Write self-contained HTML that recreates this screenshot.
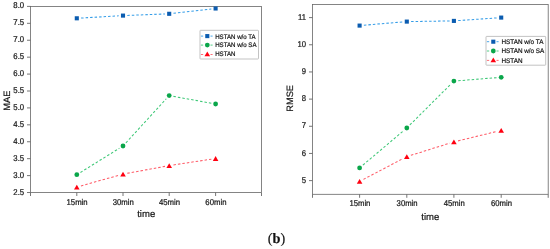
<!DOCTYPE html>
<html><head><meta charset="utf-8"><title>figure</title>
<style>
html,body{margin:0;padding:0;background:#fff}
body{width:550px;height:249px;overflow:hidden}
svg{display:block}
text{font-family:"Liberation Sans",sans-serif;fill:#1a1a1a;stroke:#1a1a1a;stroke-width:0.25px;text-rendering:geometricPrecision}
.tk{font-size:8.4px;stroke-width:0.24px}
.ttl{font-size:9.5px;fill:#111;stroke-width:0.2px}
.lg{font-size:6.5px;fill:#111;stroke-width:0.2px}
.lg2{font-size:6.6px}
.r .tk{font-size:8.4px}
.r .ttl{font-size:9.5px}
.yl,.r .yl{font-size:9.25px}
.cap{font-family:"Liberation Serif",serif;font-size:14.3px;fill:#111;stroke-width:0.15px}
</style></head><body>
<svg width="550" height="249" viewBox="0 0 550 249">
<rect width="550" height="249" fill="#fff"/>
<rect x="30.5" y="6.4" width="231.00" height="186.10" fill="none" stroke="#666666" stroke-width="0.8"/>
<line x1="27.00" y1="6.4" x2="30.5" y2="6.4" stroke="#666666" stroke-width="0.9"/>
<text transform="translate(24.10,8.45) scale(0.925,1)" text-anchor="end" class="tk">8.0</text>
<line x1="27.00" y1="23.32" x2="30.5" y2="23.32" stroke="#666666" stroke-width="0.9"/>
<text transform="translate(24.10,25.37) scale(0.925,1)" text-anchor="end" class="tk">7.5</text>
<line x1="27.00" y1="40.24" x2="30.5" y2="40.24" stroke="#666666" stroke-width="0.9"/>
<text transform="translate(24.10,42.29) scale(0.925,1)" text-anchor="end" class="tk">7.0</text>
<line x1="27.00" y1="57.16" x2="30.5" y2="57.16" stroke="#666666" stroke-width="0.9"/>
<text transform="translate(24.10,59.21) scale(0.925,1)" text-anchor="end" class="tk">6.5</text>
<line x1="27.00" y1="74.08" x2="30.5" y2="74.08" stroke="#666666" stroke-width="0.9"/>
<text transform="translate(24.10,76.13) scale(0.925,1)" text-anchor="end" class="tk">6.0</text>
<line x1="27.00" y1="91.0" x2="30.5" y2="91.0" stroke="#666666" stroke-width="0.9"/>
<text transform="translate(24.10,93.05) scale(0.925,1)" text-anchor="end" class="tk">5.5</text>
<line x1="27.00" y1="107.92" x2="30.5" y2="107.92" stroke="#666666" stroke-width="0.9"/>
<text transform="translate(24.10,109.97) scale(0.925,1)" text-anchor="end" class="tk">5.0</text>
<line x1="27.00" y1="124.84" x2="30.5" y2="124.84" stroke="#666666" stroke-width="0.9"/>
<text transform="translate(24.10,126.89) scale(0.925,1)" text-anchor="end" class="tk">4.5</text>
<line x1="27.00" y1="141.76" x2="30.5" y2="141.76" stroke="#666666" stroke-width="0.9"/>
<text transform="translate(24.10,143.81) scale(0.925,1)" text-anchor="end" class="tk">4.0</text>
<line x1="27.00" y1="158.68" x2="30.5" y2="158.68" stroke="#666666" stroke-width="0.9"/>
<text transform="translate(24.10,160.73) scale(0.925,1)" text-anchor="end" class="tk">3.5</text>
<line x1="27.00" y1="175.6" x2="30.5" y2="175.6" stroke="#666666" stroke-width="0.9"/>
<text transform="translate(24.10,177.65) scale(0.925,1)" text-anchor="end" class="tk">3.0</text>
<line x1="27.00" y1="192.52" x2="30.5" y2="192.52" stroke="#666666" stroke-width="0.9"/>
<text transform="translate(24.10,194.57) scale(0.925,1)" text-anchor="end" class="tk">2.5</text>
<line x1="30.50" y1="192.5" x2="30.50" y2="196.00" stroke="#666666" stroke-width="0.9"/>
<line x1="76.80" y1="192.5" x2="76.80" y2="196.00" stroke="#666666" stroke-width="0.9"/>
<line x1="123.00" y1="192.5" x2="123.00" y2="196.00" stroke="#666666" stroke-width="0.9"/>
<line x1="169.20" y1="192.5" x2="169.20" y2="196.00" stroke="#666666" stroke-width="0.9"/>
<line x1="215.60" y1="192.5" x2="215.60" y2="196.00" stroke="#666666" stroke-width="0.9"/>
<line x1="261.50" y1="192.5" x2="261.50" y2="196.00" stroke="#666666" stroke-width="0.9"/>
<text transform="translate(77.10,205.00) scale(0.925,1)" text-anchor="middle" class="tk">15min</text>
<text transform="translate(123.30,205.00) scale(0.925,1)" text-anchor="middle" class="tk">30min</text>
<text transform="translate(169.50,205.00) scale(0.925,1)" text-anchor="middle" class="tk">45min</text>
<text transform="translate(215.90,205.00) scale(0.925,1)" text-anchor="middle" class="tk">60min</text>
<text x="146.2" y="217.30" text-anchor="middle" class="ttl">time</text>
<text transform="translate(9.7,100.7) rotate(-90)" text-anchor="middle" class="ttl yl">MAE</text>
<line x1="81.09" y1="18.05" x2="118.71" y2="15.85" stroke="#349de8" stroke-width="1.05" stroke-dasharray="2.5,2.0"/>
<line x1="127.30" y1="15.43" x2="164.90" y2="13.97" stroke="#349de8" stroke-width="1.05" stroke-dasharray="2.5,2.0"/>
<line x1="173.47" y1="13.31" x2="211.33" y2="8.99" stroke="#349de8" stroke-width="1.05" stroke-dasharray="2.5,2.0"/>
<line x1="80.45" y1="172.43" x2="119.35" y2="148.27" stroke="#3fc878" stroke-width="1.05" stroke-dasharray="2.5,2.0"/>
<line x1="125.91" y1="142.83" x2="166.29" y2="98.77" stroke="#3fc878" stroke-width="1.05" stroke-dasharray="2.5,2.0"/>
<line x1="173.43" y1="96.37" x2="211.37" y2="103.23" stroke="#3fc878" stroke-width="1.05" stroke-dasharray="2.5,2.0"/>
<line x1="80.94" y1="185.89" x2="118.86" y2="175.26" stroke="#ff5c68" stroke-width="1.05" stroke-dasharray="2.5,2.0"/>
<line x1="127.23" y1="173.32" x2="164.97" y2="166.38" stroke="#ff5c68" stroke-width="1.05" stroke-dasharray="2.5,2.0"/>
<line x1="173.45" y1="164.95" x2="211.35" y2="159.15" stroke="#ff5c68" stroke-width="1.05" stroke-dasharray="2.5,2.0"/>
<rect x="74.75" y="16.25" width="4.10" height="4.10" fill="#0b5cb0"/>
<rect x="120.95" y="13.55" width="4.10" height="4.10" fill="#0b5cb0"/>
<rect x="167.15" y="11.75" width="4.10" height="4.10" fill="#0b5cb0"/>
<rect x="213.55" y="6.45" width="4.10" height="4.10" fill="#0b5cb0"/>
<circle cx="76.80" cy="174.70" r="2.40" fill="#0aa64a"/>
<circle cx="123.00" cy="146.00" r="2.40" fill="#0aa64a"/>
<circle cx="169.20" cy="95.60" r="2.40" fill="#0aa64a"/>
<circle cx="215.60" cy="104.00" r="2.40" fill="#0aa64a"/>
<polygon points="76.80,184.65 74.00,189.45 79.60,189.45" fill="#ff0010"/>
<polygon points="123.00,171.70 120.20,176.50 125.80,176.50" fill="#ff0010"/>
<polygon points="169.20,163.20 166.40,168.00 172.00,168.00" fill="#ff0010"/>
<polygon points="215.60,156.10 212.80,160.90 218.40,160.90" fill="#ff0010"/>
<rect x="200" y="30.3" width="58.50" height="28.70" rx="0.6" fill="#fff" stroke="#b4b4b4" stroke-width="0.8"/>
<line x1="200.90" y1="36.1" x2="203.20" y2="36.1" stroke="#349de8" stroke-width="0.9"/>
<line x1="210.50" y1="36.1" x2="212.60" y2="36.1" stroke="#349de8" stroke-width="0.9"/>
<rect x="205.25" y="34.05" width="4.10" height="4.10" fill="#0b5cb0"/>
<text transform="translate(215.20,38.60) scale(0.94,1)" text-anchor="start" class="lg">HSTAN w/o TA</text>
<line x1="200.90" y1="45.1" x2="203.20" y2="45.1" stroke="#3fc878" stroke-width="0.9"/>
<line x1="210.50" y1="45.1" x2="212.60" y2="45.1" stroke="#3fc878" stroke-width="0.9"/>
<circle cx="207.30" cy="45.10" r="2.40" fill="#0aa64a"/>
<text transform="translate(215.20,47.35) scale(0.94,1)" text-anchor="start" class="lg">HSTAN w/o SA</text>
<line x1="200.90" y1="54.5" x2="203.20" y2="54.5" stroke="#ff5c68" stroke-width="0.9"/>
<line x1="210.50" y1="54.5" x2="212.60" y2="54.5" stroke="#ff5c68" stroke-width="0.9"/>
<polygon points="207.30,51.50 204.50,56.30 210.10,56.30" fill="#ff0010"/>
<text transform="translate(215.20,56.35) scale(0.94,1)" text-anchor="start" class="lg">HSTAN</text>
<g class="r">
<rect x="312.5" y="4.5" width="235.70" height="189.80" fill="none" stroke="#666666" stroke-width="0.8"/>
<line x1="309.00" y1="17.6" x2="312.5" y2="17.6" stroke="#666666" stroke-width="0.9"/>
<text transform="translate(306.10,19.70) scale(0.92,1)" text-anchor="end" class="tk">11</text>
<line x1="309.00" y1="44.77" x2="312.5" y2="44.77" stroke="#666666" stroke-width="0.9"/>
<text transform="translate(306.10,46.87) scale(0.92,1)" text-anchor="end" class="tk">10</text>
<line x1="309.00" y1="71.94" x2="312.5" y2="71.94" stroke="#666666" stroke-width="0.9"/>
<text transform="translate(306.10,74.04) scale(0.92,1)" text-anchor="end" class="tk">9</text>
<line x1="309.00" y1="99.11" x2="312.5" y2="99.11" stroke="#666666" stroke-width="0.9"/>
<text transform="translate(306.10,101.21) scale(0.92,1)" text-anchor="end" class="tk">8</text>
<line x1="309.00" y1="126.28" x2="312.5" y2="126.28" stroke="#666666" stroke-width="0.9"/>
<text transform="translate(306.10,128.38) scale(0.92,1)" text-anchor="end" class="tk">7</text>
<line x1="309.00" y1="153.45" x2="312.5" y2="153.45" stroke="#666666" stroke-width="0.9"/>
<text transform="translate(306.10,155.55) scale(0.92,1)" text-anchor="end" class="tk">6</text>
<line x1="309.00" y1="180.62" x2="312.5" y2="180.62" stroke="#666666" stroke-width="0.9"/>
<text transform="translate(306.10,182.72) scale(0.92,1)" text-anchor="end" class="tk">5</text>
<line x1="312.50" y1="194.3" x2="312.50" y2="197.80" stroke="#666666" stroke-width="0.9"/>
<line x1="359.60" y1="194.3" x2="359.60" y2="197.80" stroke="#666666" stroke-width="0.9"/>
<line x1="406.80" y1="194.3" x2="406.80" y2="197.80" stroke="#666666" stroke-width="0.9"/>
<line x1="453.90" y1="194.3" x2="453.90" y2="197.80" stroke="#666666" stroke-width="0.9"/>
<line x1="501.20" y1="194.3" x2="501.20" y2="197.80" stroke="#666666" stroke-width="0.9"/>
<line x1="548.20" y1="194.3" x2="548.20" y2="197.80" stroke="#666666" stroke-width="0.9"/>
<text transform="translate(359.90,206.30) scale(0.92,1)" text-anchor="middle" class="tk">15min</text>
<text transform="translate(407.10,206.30) scale(0.92,1)" text-anchor="middle" class="tk">30min</text>
<text transform="translate(454.20,206.30) scale(0.92,1)" text-anchor="middle" class="tk">45min</text>
<text transform="translate(501.50,206.30) scale(0.92,1)" text-anchor="middle" class="tk">60min</text>
<text x="430.3" y="219.50" text-anchor="middle" class="ttl">time</text>
<text transform="translate(292.9,98.4) rotate(-90)" text-anchor="middle" class="ttl yl">RMSE</text>
<line x1="363.88" y1="25.24" x2="402.52" y2="21.96" stroke="#349de8" stroke-width="1.05" stroke-dasharray="2.5,2.0"/>
<line x1="411.10" y1="21.54" x2="449.60" y2="20.96" stroke="#349de8" stroke-width="1.05" stroke-dasharray="2.5,2.0"/>
<line x1="458.19" y1="20.60" x2="496.91" y2="17.90" stroke="#349de8" stroke-width="1.05" stroke-dasharray="2.5,2.0"/>
<line x1="362.88" y1="165.12" x2="403.52" y2="130.78" stroke="#3fc878" stroke-width="1.05" stroke-dasharray="2.5,2.0"/>
<line x1="409.85" y1="124.97" x2="450.85" y2="84.13" stroke="#3fc878" stroke-width="1.05" stroke-dasharray="2.5,2.0"/>
<line x1="458.19" y1="80.76" x2="496.91" y2="77.64" stroke="#3fc878" stroke-width="1.05" stroke-dasharray="2.5,2.0"/>
<line x1="363.41" y1="179.40" x2="402.99" y2="158.60" stroke="#ff5c68" stroke-width="1.05" stroke-dasharray="2.5,2.0"/>
<line x1="410.90" y1="155.32" x2="449.80" y2="143.18" stroke="#ff5c68" stroke-width="1.05" stroke-dasharray="2.5,2.0"/>
<line x1="458.08" y1="140.88" x2="497.02" y2="131.42" stroke="#ff5c68" stroke-width="1.05" stroke-dasharray="2.5,2.0"/>
<rect x="357.55" y="23.55" width="4.10" height="4.10" fill="#0b5cb0"/>
<rect x="404.75" y="19.55" width="4.10" height="4.10" fill="#0b5cb0"/>
<rect x="451.85" y="18.85" width="4.10" height="4.10" fill="#0b5cb0"/>
<rect x="499.15" y="15.55" width="4.10" height="4.10" fill="#0b5cb0"/>
<circle cx="359.60" cy="167.90" r="2.40" fill="#0aa64a"/>
<circle cx="406.80" cy="128.00" r="2.40" fill="#0aa64a"/>
<circle cx="453.90" cy="81.10" r="2.40" fill="#0aa64a"/>
<circle cx="501.20" cy="77.30" r="2.40" fill="#0aa64a"/>
<polygon points="359.60,179.00 356.80,183.80 362.40,183.80" fill="#ff0010"/>
<polygon points="406.80,154.20 404.00,159.00 409.60,159.00" fill="#ff0010"/>
<polygon points="453.90,139.50 451.10,144.30 456.70,144.30" fill="#ff0010"/>
<polygon points="501.20,128.00 498.40,132.80 504.00,132.80" fill="#ff0010"/>
<rect x="486.0" y="36.4" width="59.70" height="28.80" rx="0.6" fill="#fff" stroke="#b4b4b4" stroke-width="0.8"/>
<line x1="486.90" y1="41.7" x2="489.20" y2="41.7" stroke="#349de8" stroke-width="0.9"/>
<line x1="496.50" y1="41.7" x2="498.60" y2="41.7" stroke="#349de8" stroke-width="0.9"/>
<rect x="491.25" y="39.65" width="4.10" height="4.10" fill="#0b5cb0"/>
<text transform="translate(501.50,44.00) scale(0.96,1)" text-anchor="start" class="lg lg2">HSTAN w/o TA</text>
<line x1="486.90" y1="51.0" x2="489.20" y2="51.0" stroke="#3fc878" stroke-width="0.9"/>
<line x1="496.50" y1="51.0" x2="498.60" y2="51.0" stroke="#3fc878" stroke-width="0.9"/>
<circle cx="493.30" cy="51.00" r="2.40" fill="#0aa64a"/>
<text transform="translate(501.50,53.30) scale(0.96,1)" text-anchor="start" class="lg lg2">HSTAN w/o SA</text>
<line x1="486.90" y1="60.4" x2="489.20" y2="60.4" stroke="#ff5c68" stroke-width="0.9"/>
<line x1="496.50" y1="60.4" x2="498.60" y2="60.4" stroke="#ff5c68" stroke-width="0.9"/>
<polygon points="493.30,57.40 490.50,62.20 496.10,62.20" fill="#ff0010"/>
<text transform="translate(501.50,62.60) scale(0.96,1)" text-anchor="start" class="lg lg2">HSTAN</text>
</g>
<text x="276.5" y="243" text-anchor="middle" class="cap">(<tspan font-weight="bold">b</tspan>)</text>
</svg>
</body></html>
